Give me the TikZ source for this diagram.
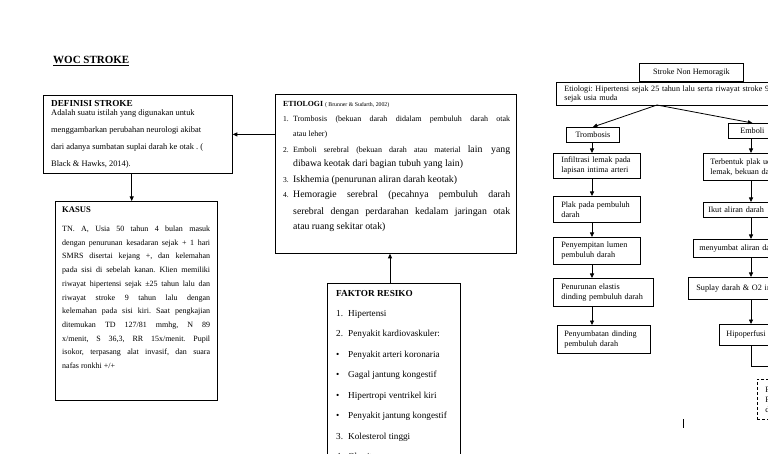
\documentclass[tikz,border=0pt]{standalone}
\usepackage{fontspec}
\setmainfont{Liberation Serif}
\usetikzlibrary{arrows.meta}
\newcommand\fsz[2]{\fontsize{#1}{#2}\selectfont}
\frenchspacing
\begin{document}
\begin{tikzpicture}[x=1pt,y=-1pt,
  box/.style={draw,line width=0.8pt,anchor=north west,inner sep=0pt},
  fb/.style={box,align=left,inner xsep=8pt,font=\fsz{8.2}{10}},
  arr/.style={line width=0.8pt,-{Triangle[length=4.5pt,width=4pt]}},
  ln/.style={line width=0.8pt},
  tl/.style={anchor=base west,inner sep=0pt},
]
\fill[white] (0,0) rectangle (768,454);
\useasboundingbox (0,0) rectangle (768,454);

% title
\node[tl,font=\bfseries\fsz{11}{12}] (woc) at (53,63.5) {\underline{WOC STROKE}};

% definisi (multi-line nodes: base = last line)
\node[box,minimum width=189pt,minimum height=78pt] (def) at (43,95) {};
\node[tl,font=\bfseries\fsz{9.2}{10}] (deft) at (51,106.5) {DEFINISI STROKE};
\node[tl,font=\fsz{8.4}{16.9},align=left] (defb) at (51,166.2) {Adalah suatu istilah yang digunakan untuk\\menggambarkan perubahan neurologi akibat\\dari adanya sumbatan suplai darah ke otak . (\\Black \& Hawks, 2014).};

% kasus
\node[box,minimum width=162pt,minimum height=199pt] (kas) at (55,201) {};
\node[tl,font=\bfseries\fsz{8.6}{10}] (kast) at (62,213) {KASUS};
\node[tl,font=\fsz{8}{13.7},align=left] (kasb) at (62,368.5) {%
\makebox[148pt][s]{TN. A, Usia 50 tahun 4 bulan masuk}\\
\makebox[148pt][s]{dengan penurunan kesadaran sejak + 1 hari}\\
\makebox[148pt][s]{SMRS disertai kejang +, dan kelemahan}\\
\makebox[148pt][s]{pada sisi di sebelah kanan. Klien memiliki}\\
\makebox[148pt][s]{riwayat hipertensi sejak ±25 tahun lalu dan}\\
\makebox[148pt][s]{riwayat stroke 9 tahun lalu dengan}\\
\makebox[148pt][s]{kelemahan pada sisi kiri. Saat pengkajian}\\
\makebox[148pt][s]{ditemukan TD 127/81 mmhg, N 89}\\
\makebox[148pt][s]{x/menit, S 36,3, RR 15x/menit. Pupil}\\
\makebox[148pt][s]{isokor, terpasang alat invasif, dan suara}\\
nafas ronkhi +/+};

% etiologi
\node[box,minimum width=241pt,minimum height=159pt] (eti) at (275,94) {};
\node[tl] (etit) at (283,107) {\fsz{7.8}{10}\bfseries ETIOLOGI \fsz{5.8}{10}\mdseries( Brunner \& Sudarth, 2002)};
\node[tl,font=\fsz{7.5}{10}] (e1n) at (283,122) {1.};
\node[tl,font=\fsz{8}{10}] (e1a) at (293,122) {\makebox[217pt][s]{Trombosis (bekuan darah didalam pembuluh darah otak}};
\node[tl,font=\fsz{8}{10}] (e1b) at (293,136.5) {atau leher)};
\node[tl,font=\fsz{7.5}{10}] (e2n) at (283,152.5) {2.};
\node[tl] (e2a) at (293,152.5) {\makebox[217pt][s]{\fsz{8}{10}Emboli serebral (bekuan darah atau material \fsz{9.8}{10}lain yang}};
\node[tl,font=\fsz{9.8}{10}] (e2b) at (293,167) {dibawa keotak dari bagian tubuh yang lain)};
\node[tl,font=\fsz{7.5}{10}] (e3n) at (283,183) {3.};
\node[tl,font=\fsz{9.8}{10}] (e3a) at (293,183) {Iskhemia (penurunan aliran darah keotak)};
\node[tl,font=\fsz{7.5}{10}] (e4n) at (283,198) {4.};
\node[tl,font=\fsz{9.8}{10}] (e4a) at (293,198) {\makebox[217pt][s]{Hemoragie serebral (pecahnya pembuluh darah}};
\node[tl,font=\fsz{9.8}{10}] (e4b) at (293,214.5) {\makebox[217pt][s]{serebral dengan perdarahan kedalam jaringan otak}};
\node[tl,font=\fsz{9.8}{10}] (e4c) at (293,230) {atau ruang sekitar otak)};

% faktor resiko
\node[box,minimum width=133pt,minimum height=200pt] (fr) at (327,283) {};
\node[tl,font=\bfseries\fsz{9.2}{10}] (frt) at (336,296.5) {FAKTOR RESIKO};
\node[tl,font=\fsz{9.2}{20.5},align=left] (frn) at (336,459.5) {1.\\2.\\•\\•\\•\\•\\3.\\4.};
\node[tl,font=\fsz{9.2}{20.5},align=left] (frx) at (348,459.5) {Hipertensi\\Penyakit kardiovaskuler:\\Penyakit arteri koronaria\\Gagal jantung kongestif\\Hipertropi ventrikel kiri\\Penyakit jantung kongestif\\Kolesterol tinggi\\Obesitas};

% left-side arrows
\draw[arr] (eti.west |- def.east) -- (def.east);
\coordinate (xa) at (131.7,0);
\draw[arr] (def.south -| xa) -- (kas.north -| xa);
\coordinate (xb) at (390,0);
\draw[arr] (fr.north -| xb) -- (eti.south -| xb);

% right flowchart
\node[box,minimum width=104pt,minimum height=18pt,font=\fsz{8.2}{10}] (snh) at (639,63) {Stroke Non Hemoragik};
\node[fb,text width=280pt,minimum height=23pt,font=\fsz{8.1}{9}] (et2) at (556,82) {Etiologi: Hipertensi sejak 25 tahun lalu serta riwayat stroke 9 tahun lalu\\sejak usia muda};
\coordinate (br) at (657,105);
\node[box,minimum width=53pt,minimum height=15pt,font=\fsz{8.2}{9}] (tro) at (566,127) {Trombosis};
\node[box,minimum width=48pt,minimum height=15pt,font=\fsz{8.2}{9}] (emb) at (728,123) {Emboli};
\draw[arr] (br) -- (tro.north);
\draw[arr] (br) -- (emb.north);

\node[fb,text width=71pt,minimum height=25pt] (inf) at (553,153) {Infiltrasi lemak pada\\lapisan intima arteri};
\node[fb,text width=71pt,minimum height=26pt] (plak) at (553,196) {Plak pada pembuluh\\darah};
\node[fb,text width=71pt,minimum height=27pt] (peny) at (553,237) {Penyempitan lumen\\pembuluh darah};
\node[fb,text width=84pt,minimum height=28pt] (penu) at (553,278) {Penurunan elastis\\dinding pembuluh darah};
\node[fb,text width=79pt,inner xsep=7pt,minimum height=28pt] (pnym) at (557,325) {Penyumbatan dinding\\pembuluh darah};
\coordinate (xc) at (592,0);
\draw[arr] (tro.south -| xc) -- (inf.north -| xc);
\draw[arr] (inf.south -| xc) -- (plak.north -| xc);
\draw[arr] (plak.south -| xc) -- (peny.north -| xc);
\draw[arr] (peny.south -| xc) -- (penu.north -| xc);
\draw[arr] (penu.south -| xc) -- (pnym.north -| xc);

\node[fb,text width=90pt,inner xsep=7pt,minimum height=27pt] (terb) at (703,153) {Terbentuk plak udara,\\lemak, bekuan darah};
\node[fb,text width=90pt,inner xsep=5pt,minimum height=15pt] (ikut) at (703,202) {Ikut aliran darah};
\node[fb,text width=100pt,inner xsep=6pt,minimum height=18pt] (meny) at (693,239) {menyumbat aliran darah};
\node[fb,text width=110pt,inner xsep=8pt,minimum height=22pt] (supl) at (688,277) {Suplay darah \& O2 inadekuat};
\node[fb,text width=80pt,inner xsep=7pt,minimum height=21pt] (hipo) at (719,324) {Hipoperfusi};
\coordinate (xd) at (751,0);
\draw[arr] (emb.south -| xd) -- (terb.north -| xd);
\draw[arr] (terb.south -| xd) -- (ikut.north -| xd);
\draw[arr] (ikut.south -| xd) -- (meny.north -| xd);
\draw[arr] (meny.south -| xd) -- (supl.north -| xd);
\draw[arr] (supl.south -| xd) -- (hipo.north -| xd);
\coordinate (hk) at (751,366);
\coordinate (hr) at (800,366);
\draw[ln] (hipo.south -| hk) -- (hk) -- (hr);
\node[fb,dash pattern=on 3pt off 2pt,text width=60pt,minimum height=40pt] (dsh) at (757,379) {F\\F\\d};
\coordinate (c1) at (683,419);
\coordinate (c2) at (683,428);
\draw[ln] (c1) -- (c2);
\end{tikzpicture}
\end{document}
